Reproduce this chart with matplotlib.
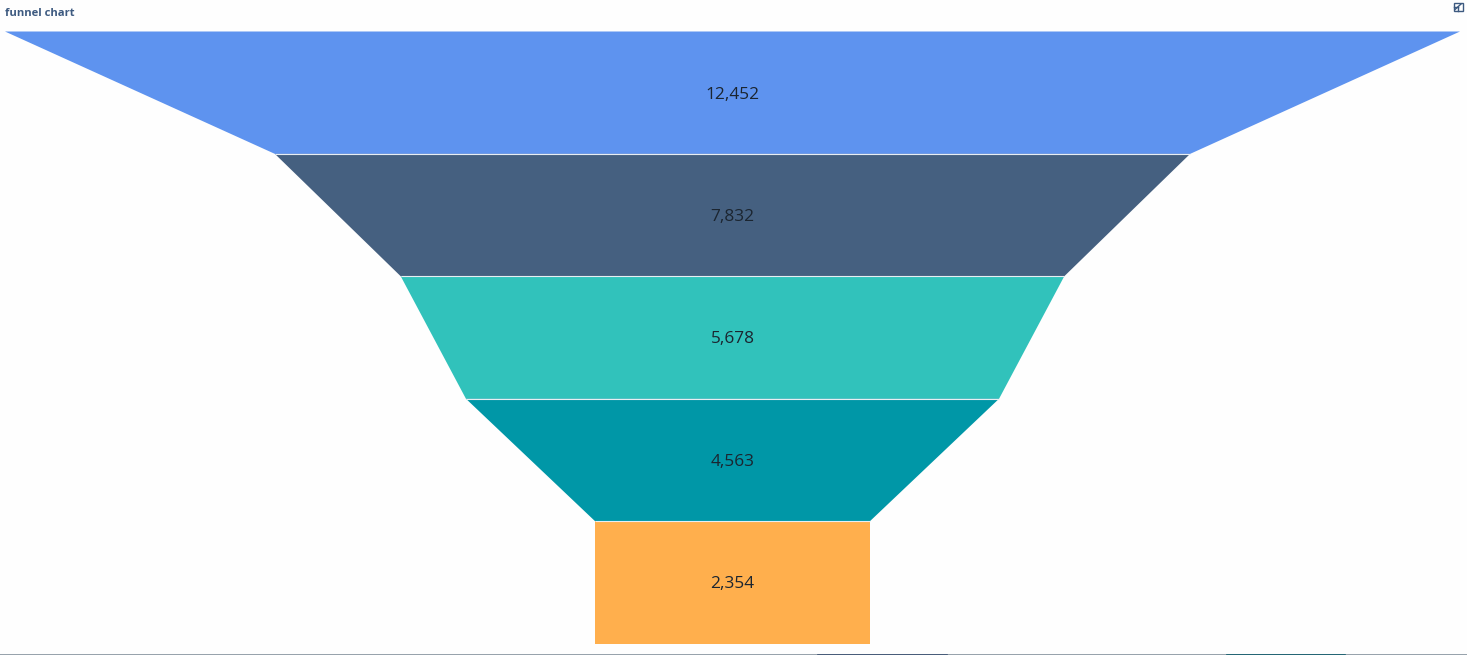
import numpy as np
import matplotlib.pyplot as plt
from matplotlib.patches import Rectangle

plt.rcParams['font.family'] = ['Open Sans', 'DejaVu Sans']

values = [12452, 7832, 5678, 4563, 2354]
labels = ["12,452", "7,832", "5,678", "4,563", "2,354"]
colors = ["#5e93ef", "#456080", "#31c2bb", "#0097a7", "#ffaf4d"]

W, H = 1467, 655
fig = plt.figure(figsize=(W / 100, H / 100), dpi=100, facecolor="#fefefe")

# funnel area in pixels: x 5-1460, y 31.5-643.5
ax = fig.add_axes([5 / W, 1 - 643.5 / H, 1455 / W, 612 / H])
ax.set_xlim(-values[0] / 2, values[0] / 2)
ax.set_ylim(len(values), 0)
ax.axis("off")

for i, v in enumerate(values):
    # last stage keeps its own width at the bottom
    nxt = values[i + 1] if i + 1 < len(values) else v
    ax.fill([-v / 2, v / 2, nxt / 2, -nxt / 2], [i, i, i + 1, i + 1],
            facecolor=colors[i], edgecolor="none", clip_on=False)
    ax.text(0, i + 0.516, labels[i], color="#1b2530", fontsize=12.4, ha="center", va="center")
    if i > 0:
        ax.plot([-v / 2, v / 2], [i, i], color="#e8eef2", linewidth=0.8, solid_capstyle="butt")

fig.text(5 / W, 1 - 13.5 / H, "funnel chart", color="#3d5a80", fontsize=8.1,
         fontweight="bold", ha="left", va="center")

# expand icon top right
icon = fig.add_axes([0, 0, 1, 1], facecolor="none")
icon.set_xlim(0, W)
icon.set_ylim(H, 0)
icon.axis("off")
icon.add_patch(Rectangle((1453.5, 2.5), 9, 8.5, facecolor="white", edgecolor="#3d5a80", linewidth=1))
icon.plot([1455, 1461], [9.5, 4], color="#3d5a80", linewidth=1)
icon.plot([1453.5, 1458], [7, 7], color="#3d5a80", linewidth=1)
icon.plot([1458, 1458], [7, 11], color="#3d5a80", linewidth=1)

# page edge along the bottom
icon.plot([0, W], [654.5, 654.5], color="#84919c", linewidth=1.2)
icon.plot([818, 947], [654.5, 654.5], color="#3a5070", linewidth=1.2)
icon.plot([1227, 1345], [654.5, 654.5], color="#0f5a6b", linewidth=1.2)

fig.savefig("out.png", dpi=100, facecolor=fig.get_facecolor())
plt.close()
